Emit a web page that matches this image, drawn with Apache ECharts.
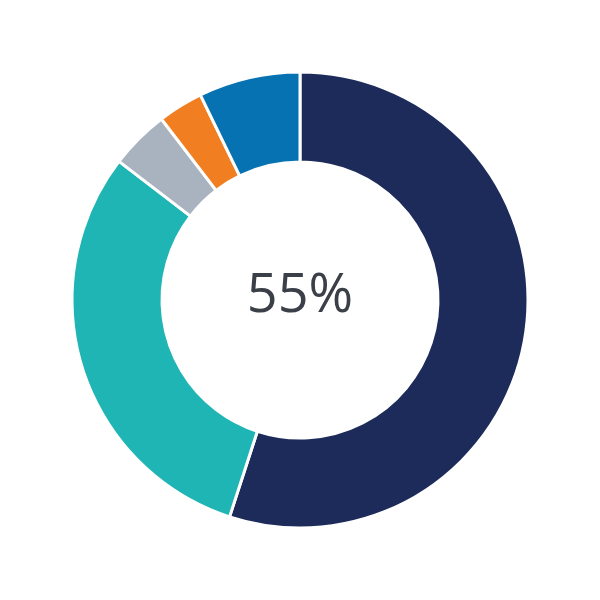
<!DOCTYPE html>
<html><head><meta charset="utf-8">
<script src="https://cdn.jsdelivr.net/npm/echarts@6/dist/echarts.min.js"></script>
<style>html,body{margin:0;padding:0;background:#fff}#c{width:600px;height:600px}</style>
</head><body><div id="c"></div>
<script>
const categories = ['A', 'B', 'C', 'D', 'E'];
const values = [55, 30.4, 4.2, 3.2, 7.2];
const colors = ['#1c2b5a', '#1fb5b5', '#a9b3bf', '#f17f22', '#0672b2'];
const centerLabel = '55%';

const chart = echarts.init(document.getElementById('c'));
chart.setOption({
  animation: false,
  graphic: [{
    type: 'text', left: 'center', top: 270,
    style: { text: centerLabel, font: '54px "Open Sans"', fill: '#3a3f48', textAlign: 'center' }
  }],
  series: [{
    type: 'pie',
    center: [300, 300],
    radius: [138, 228],
    startAngle: 90,
    clockwise: true,
    label: { show: false },
    labelLine: { show: false },
    emphasis: { disabled: true },
    itemStyle: { borderColor: '#fff', borderWidth: 3 },
    data: categories.map((n, i) => ({ name: n, value: values[i], itemStyle: { color: colors[i] } }))
  }]
});
</script></body></html>
